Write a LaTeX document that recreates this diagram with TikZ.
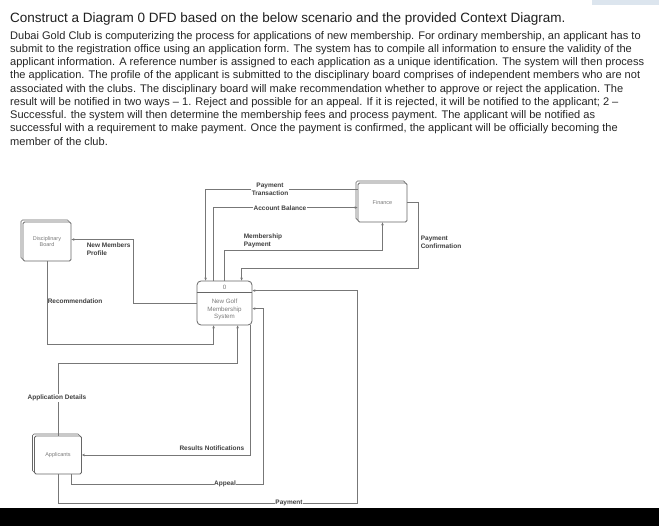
\documentclass[tikz,border=0pt]{standalone}
\usepackage{fontspec}
\setmainfont{Liberation Sans}
\usetikzlibrary{arrows.meta,calc}
\definecolor{linegray}{HTML}{777777}
\definecolor{boxgray}{HTML}{666666}
\definecolor{entText}{HTML}{7A7A7A}
\definecolor{lblText}{HTML}{404040}
\definecolor{topbar}{HTML}{DCE5EE}
\begin{document}
\begin{tikzpicture}[x=1pt,y=-1pt,
  conn/.style={draw=linegray, line width=0.7pt},
  flow/.style={conn, -{Stealth[length=3pt,width=2.6pt]}},
  entback/.style={draw=boxgray, line width=0.7pt, fill=white, rounded corners=1.5pt, inner sep=0pt},
  ent/.style={draw=boxgray, line width=0.8pt, fill=white, rounded corners=1.5pt, inner sep=0pt,
    font=\fontsize{5.5}{6.5}\selectfont, text=entText, align=center},
  proc/.style={draw=boxgray, line width=0.8pt, fill=white, rounded corners=4pt, inner sep=0pt,
    minimum width=55pt, minimum height=44pt},
  lbl/.style={font=\bfseries\fontsize{6.5}{8}\selectfont, text=lblText, inner sep=0.6pt, align=left},
  onl/.style={lbl, fill=white, align=center},
  ptext/.style={font=\fontsize{6.2}{7.6}\selectfont, text=entText, align=center, inner sep=0pt},
]
\useasboundingbox (0,0) rectangle (659,526);
\fill[white] (0,0) rectangle (659,526);
\fill[topbar] (592,0) rectangle (659,5);
\fill[black] (0,508) rectangle (659,526);

% header text
\node[anchor=base west, inner sep=0pt, font=\fontsize{13.5}{16}\selectfont, text=black!88] (title) at (10,22.5)
  {Construct a Diagram 0 DFD based on the below scenario and the provided Context Diagram.};
\node[anchor=north west, inner sep=0pt, align=left, font=\fontsize{11.05}{13.25}\selectfont, text=black!85] (body) at (10,31)
  {Dubai Gold Club is computerizing the process for applications of new membership. For ordinary membership, an applicant has to\\
   submit to the registration office using an application form. The system has to compile all information to ensure the validity of the\\
   applicant information. A reference number is assigned to each application as a unique identification. The system will then process\\
   the application. The profile of the applicant is submitted to the disciplinary board comprises of independent members who are not\\
   associated with the clubs. The disciplinary board will make recommendation whether to approve or reject the application. The\\
   result will be notified in two ways -- 1. Reject and possible for an appeal. If it is rejected, it will be notified to the applicant; 2 --\\
   Successful. the system will then determine the membership fees and process payment. The applicant will be notified as\\
   successful with a requirement to make payment. Once the payment is confirmed, the applicant will be officially becoming the\\
   member of the club.};

% entities (stacked)
\node[entback, minimum width=48pt, minimum height=39pt] (DBback) at (45,239.5) {};
\node[ent, minimum width=48pt, minimum height=39pt] (DB) at (47,241.5) {Disciplinary\\Board};
\node[entback, minimum width=49pt, minimum height=39pt] (Fback) at (380.5,200.5) {};
\node[ent, minimum width=49pt, minimum height=39pt] (F) at (382.5,202.5) {Finance};
\node[entback, minimum width=47pt, minimum height=38pt] (Aback) at (56,453) {};
\node[ent, minimum width=47pt, minimum height=38pt] (A) at (58,455) {Applicants};

% process
\node[proc] (P) at (224.5,303) {};
\draw[draw=boxgray, line width=0.8pt] ($(P.north west)+(0,12)$) -- ($(P.north east)+(0,12)$);
\node[ptext] (Pnum) at (224.5,287.5) {0};
\node[ptext] (Pname) at (224.5,309.5) {New Golf\\Membership\\System};

% connectors
\draw[flow] ($(F.north west)+(0,7)$) -| ($(P.north west)+(9,0)$);
\draw[flow] ($(P.north west)+(17,0)$) |- ($(F.north west)+(0,25)$);
\draw[flow] (P.north) -- ++(0,-30) -| (F.south);
\draw[flow] (F.east) -- ++(11,0) |- ($(P.north west)+(45,-12)$) -- ($(P.north west)+(45,0)$);
\draw[flow] (P.west) -- ++(-63,0) |- ($(DB.east)+(0,-2)$);
\draw[flow] (DB.south) |- ($(P.south west)+(17,19)$) -- ($(P.south west)+(17,0)$);
\draw[flow] (A.north) |- ($(P.south west)+(41,38)$) -- ($(P.south west)+(41,0)$);
\draw[flow] ($(P.south east)+(-2,0)$) |- (A.east);
\draw[flow] ($(A.south east)+(-11,0)$) |- ($(P.south east)+(11,159)$) |- ($(P.north east)+(0,28)$);
\draw[flow] (A.south) |- ($(P.south east)+(105,178)$) |- ($(P.north east)+(0,10)$);

% labels
\node[onl] (lPT) at (270,189) {Payment\\Transaction};
\node[onl] (lAB) at (280,208) {Account Balance};
\node[lbl, anchor=north west] (lMP) at (243,233) {Membership\\Payment};
\node[lbl, anchor=north west] (lPC) at (420,235) {Payment\\Confirmation};
\node[lbl, anchor=north west] (lNM) at (86,242) {New Members\\Profile};
\node[lbl, anchor=west] (lRe) at (47,301) {Recommendation};
\node[onl] (lAD) at (57,398) {Application Details};
\node[lbl, anchor=east] (lRN) at (245,448) {Results Notifications};
\node[onl] (lAp) at (225,484) {Appeal};
\node[onl] (lPa) at (289,503) {Payment};
\end{tikzpicture}
\end{document}
